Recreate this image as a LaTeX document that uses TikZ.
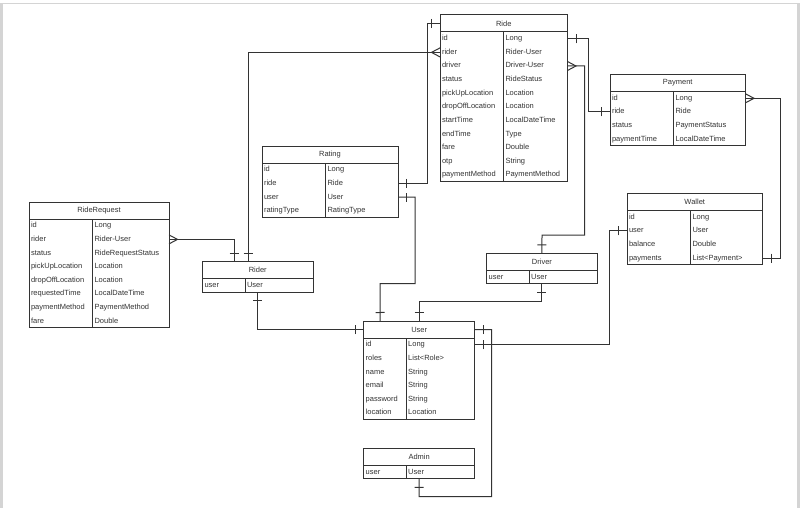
\documentclass[tikz,border=0pt]{standalone}
\usepackage{fontspec}
\setmainfont{Liberation Sans}
\usetikzlibrary{decorations.markings}

\definecolor{inkgray}{HTML}{333333}
\definecolor{edgegray}{HTML}{D4D4D4}

\tikzset{
	enttitle/.style={draw=inkgray,line width=1pt,inner sep=0pt,outer sep=0pt,minimum height=17pt,anchor=north west,text=inkgray,font=\fontsize{7.5}{9}\selectfont},
	entbody/.style={draw=inkgray,line width=1pt,inner sep=0pt,outer sep=0pt,anchor=north west},
	entcell/.style={inner xsep=2pt,inner ysep=0pt,outer sep=0pt,minimum height=13.6pt,text height=5.6pt,text depth=1.6pt,anchor=west,align=left,text=inkgray,font=\fontsize{7.5}{9}\selectfont},
	conn/.style={draw=inkgray,line width=1pt},
	onestart/.style={postaction={decorate,decoration={markings,mark=at position 8.5pt with {\draw[inkgray,line width=1pt] (0,-4.5pt) -- (0,4.5pt);}}}},
	oneend/.style={postaction={decorate,decoration={markings,mark=at position -8.5pt with {\draw[inkgray,line width=1pt] (0,-4.5pt) -- (0,4.5pt);}}}},
	manystart/.style={postaction={decorate,decoration={markings,mark=at position 8.5pt with {\draw[inkgray,line width=1pt] (-8.5pt,-4.5pt) -- (0,0) -- (-8.5pt,4.5pt);}}}},
}

% name, x, y, first column, second column, rows
\newcommand{\entity}[6]{
	\pgfmathsetlengthmacro{\entwidth}{#4pt+#5pt}
	\node[enttitle,minimum width=\entwidth] (#1) at (#2,#3) {#1};
	\foreach [count=\i] \fname/\ftype in {#6}{
		\node[entcell,text width=#4pt-4pt,minimum width=#4pt] (#1-\fname) at (#2,{#3+17+13.6*(\i-0.5)}) {\fname};
		\node[entcell,text width=#5pt-4pt,minimum width=#5pt] (#1-\fname-type) at (#2+#4,{#3+17+13.6*(\i-0.5)}) {\ftype};
		\xdef\entrows{\i}
	}
	\pgfmathsetlengthmacro{\entheight}{13.6pt*\entrows}
	\node[entbody,minimum width=\entwidth,minimum height=\entheight] (#1-body) at (#2,#3+17) {};
	\draw[conn] (#2+#4,#3+17) -- ++(0,\entrows*13.6);
}

\begin{document}
\begin{tikzpicture}[x=1pt,y=-1pt]
\useasboundingbox (0,0) rectangle (800,508);
\fill[white] (0,0) rectangle (800,508);
\fill[edgegray] (0,3) rectangle (800,4);
\fill[edgegray] (0,3) rectangle (3,508);
\fill[edgegray] (797,3) rectangle (800,508);

\entity{Ride}{440}{15}{63.5}{64}{id/Long,rider/Rider-User,driver/Driver-User,status/RideStatus,pickUpLocation/Location,dropOffLocation/Location,startTime/LocalDateTime,endTime/Type,fare/Double,otp/String,paymentMethod/PaymentMethod}
\entity{Payment}{610}{74.5}{63.5}{72}{id/Long,ride/Ride,status/PaymentStatus,paymentTime/LocalDateTime}
\entity{Wallet}{627}{193.5}{63.5}{72}{id/Long,user/User,balance/Double,payments/List<Payment>}
\entity{Rating}{262}{146}{63.5}{72.5}{id/Long,ride/Ride,user/User,ratingType/RatingType}
\entity{RideRequest}{29}{202}{63.5}{76.5}{id/Long,rider/Rider-User,status/RideRequestStatus,pickUpLocation/Location,dropOffLocation/Location,requestedTime/LocalDateTime,paymentMethod/PaymentMethod,fare/Double}
\entity{Rider}{202.5}{261.5}{42.5}{68}{user/User}
\entity{Driver}{486.7}{253.3}{42.5}{68}{user/User}
\entity{User}{363.7}{321}{42.5}{68.5}{id/Long,roles/List<Role>,name/String,email/String,password/String,location/Location}
\entity{Admin}{363.7}{448.3}{42.5}{68.5}{user/User}

\draw[conn,onestart,oneend] (Ride.west) -- ++(-12.5,0) |- (Rating-ride-type.east);
\draw[conn,manystart,oneend] (Ride-rider.west) -| ([xshift=-9.75pt]Rider.north);
\draw[conn,manystart,oneend] (RideRequest-rider-type.east) -| ([xshift=-23.75pt]Rider.north);
\draw[conn,onestart,oneend] (Rider-body.south) |- (User.west);
\draw[conn,onestart,oneend] (Rating-user-type.east) -- ++(17,0) |- ++(-35,86.5) -- ([xshift=-39pt]User.north);
\draw[conn,onestart,oneend] (Driver-body.south) -- ++(0,18) -| (User.north);
\draw[conn,manystart,oneend] (Ride-driver-type.east) -- ++(17,0) |- ++(-42.5,169) -- (Driver.north);
\draw[conn,onestart,oneend] (Ride-id-type.east) -- ++(21,0) |- (Payment-ride.west);
\draw[conn,manystart,oneend] (Payment-id-type.east) -- ++(34.5,0) |- (Wallet-payments-type.east);
\draw[conn,onestart,oneend] (User.east) -- ++(17,0) |- ++(-72.7,167) -- (Admin-body.south);
\draw[conn,onestart,oneend] (User-id-type.east) -- ++(135,0) |- (Wallet-user.west);
\end{tikzpicture}
\end{document}
